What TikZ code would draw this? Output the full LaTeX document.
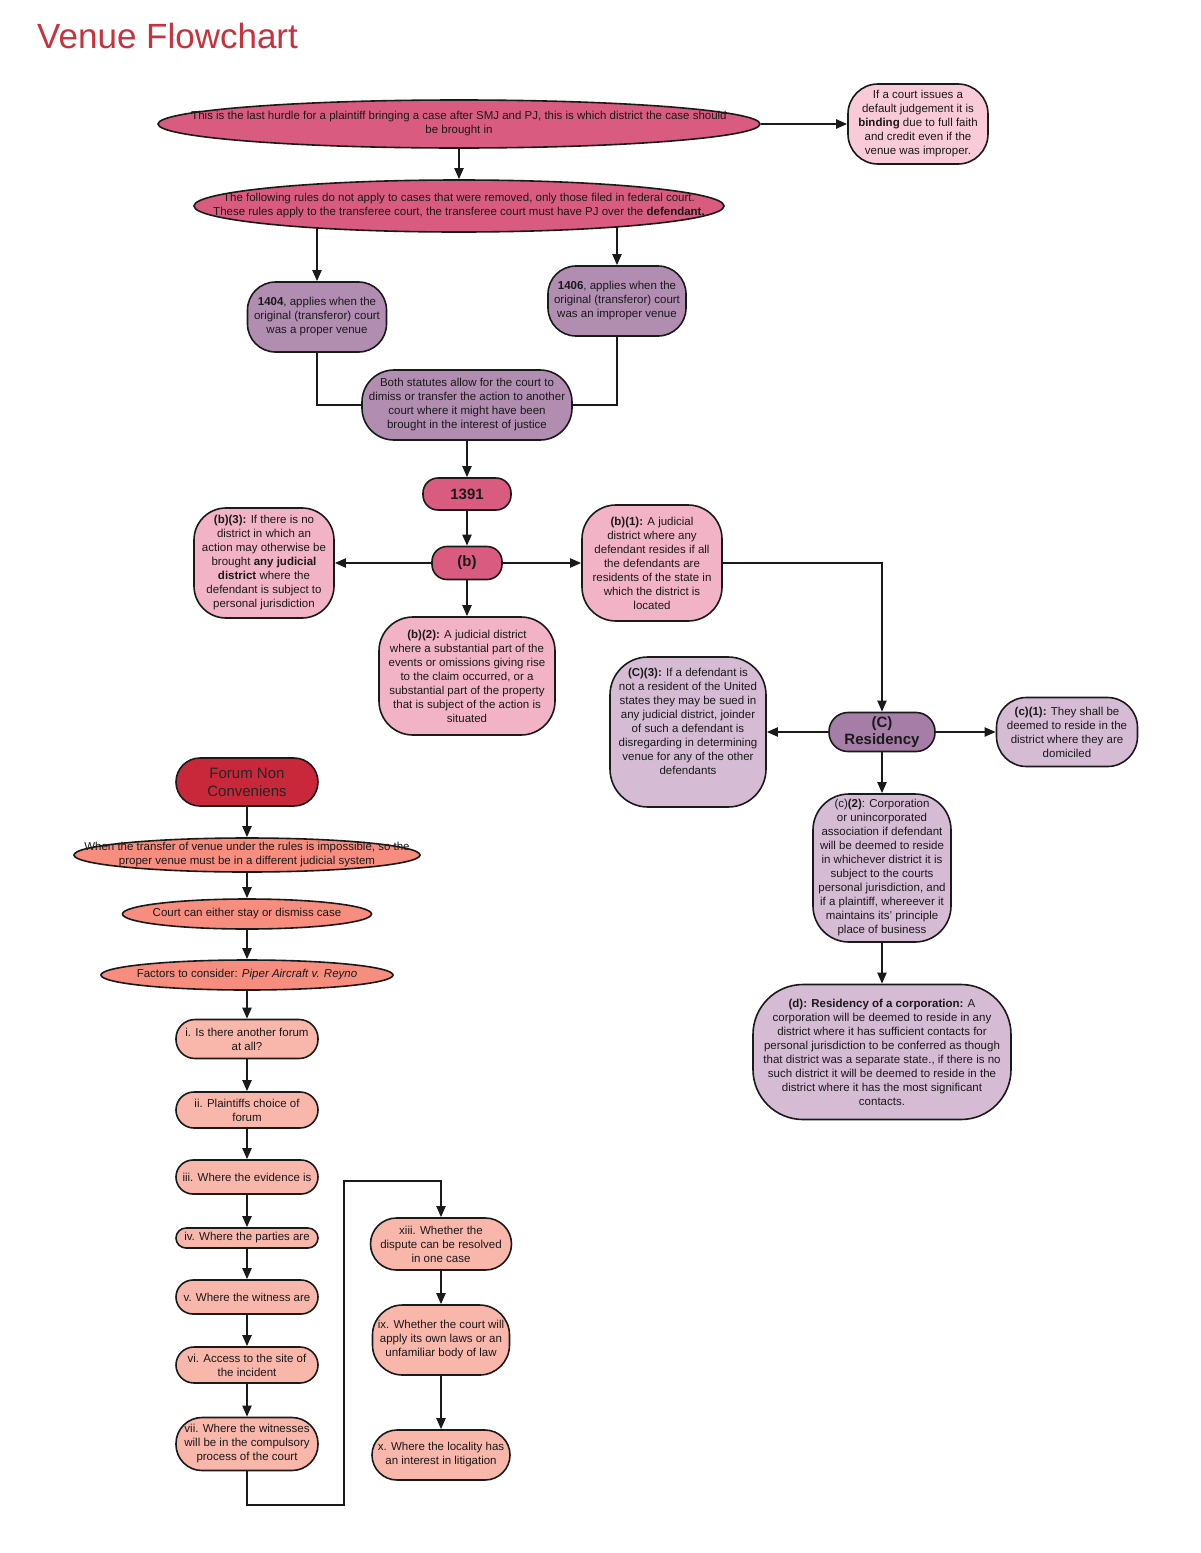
\documentclass[tikz,border=0pt]{standalone}
\usepackage{fontspec}
\setmainfont{Liberation Sans}
\usetikzlibrary{arrows.meta,shapes.geometric,backgrounds}
\definecolor{dpink}{HTML}{D95B80}
\definecolor{lpink}{HTML}{F2B3C6}
\definecolor{vlpink}{HTML}{F9CAD7}
\definecolor{purp}{HTML}{B18DB1}
\definecolor{dpurp}{HTML}{A67DA6}
\definecolor{lpurp}{HTML}{D5BBD4}
\definecolor{dred}{HTML}{C9283A}
\definecolor{salmon}{HTML}{F78D7F}
\definecolor{lsalmon}{HTML}{F9B6AB}
\definecolor{titlered}{HTML}{C8323E}
\definecolor{ink}{HTML}{1A1A1A}
\begin{document}
\begin{tikzpicture}[x=1pt,y=-1pt,
  rbox/.style={draw=ink, line width=1.6pt, rectangle, rounded corners=#1, align=center,
    font=\fontsize{11.5}{14}\selectfont, text=ink, inner sep=1pt},
  rbox/.default=18pt,
  ell/.style={draw=ink, line width=1.6pt, ellipse, inner sep=0pt},
  txt/.style={align=center, font=\fontsize{11.5}{14}\selectfont, text=ink, inner sep=0pt},
  big/.style={font=\fontsize{15}{17}\selectfont\bfseries},
  arr/.style={draw=ink, line width=2pt, -{Triangle[length=11pt,width=9pt]}},
  ln/.style={draw=ink, line width=2pt},
]
\useasboundingbox (0,0) rectangle (1200,1553);

\node[anchor=base west, text=titlered, font=\fontsize{35}{40}\selectfont, inner sep=0pt] (title) at (37,48) {Venue Flowchart};

% top part
\node[ell, fill=dpink, minimum width=602pt, minimum height=48pt] (e1) at (459,124) {};
\node[txt] (t1) at (e1) {This is the last hurdle for a plaintiff bringing a case after SMJ and PJ, this is which district the case should\\be brought in};
\node[rbox=30pt, fill=vlpink, minimum width=140pt, minimum height=80pt] (dj) at (918,124)
  {If a court issues a\\default judgement it is\\\textbf{binding} due to full faith\\and credit even if the\\venue was improper.};
\node[ell, fill=dpink, minimum width=530pt, minimum height=52pt] (e2) at (459,206) {};
\node[txt] (t2) at (e2) {The following rules do not apply to cases that were removed, only those filed in federal court.\\These rules apply to the transferee court, the transferee court must have PJ over the \textbf{defendant.}};

\node[rbox=28pt, fill=purp, minimum width=139pt, minimum height=70pt] (n1404) at (317,317)
  {\textbf{1404}, applies when the\\original (transferor) court\\was a proper venue};
\node[rbox=28pt, fill=purp, minimum width=138pt, minimum height=70pt] (n1406) at (617,301)
  {\textbf{1406}, applies when the\\original (transferor) court\\was an improper venue};
\node[rbox=32pt, fill=purp, minimum width=210pt, minimum height=70pt] (both) at (467,405)
  {Both statutes allow for the court to\\dimiss or transfer the action to another\\court where it might have been\\brought in the interest of justice};

\node[rbox=15pt, fill=dpink, minimum width=88pt, minimum height=32pt, big] (n1391) at (467,494) {1391};
\node[rbox=15pt, fill=dpink, minimum width=70pt, minimum height=33pt, big] (nb) at (467,563) {(b)};

\node[rbox=32pt, fill=lpink, minimum width=140pt, minimum height=110pt] (b3) at (264,563)
  {\textbf{(b)(3):} If there is no\\district in which an\\action may otherwise be\\brought \textbf{any judicial}\\\textbf{district} where the\\defendant is subject to\\personal jurisdiction};
\node[rbox=34pt, fill=lpink, minimum width=140pt, minimum height=116pt] (b1) at (652,563)
  {\textbf{(b)(1):} A judicial\\district where any\\defendant resides if all\\the defendants are\\residents of the state in\\which the district is\\located};
\node[rbox=34pt, fill=lpink, minimum width=176pt, minimum height=118pt] (b2) at (467,676)
  {\textbf{(b)(2):} A judicial district\\where a substantial part of the\\events or omissions giving rise\\to the claim occurred, or a\\substantial part of the property\\that is subject of the action is\\situated};

% residency
\node[rbox=19pt, fill=dpurp, minimum width=106pt, minimum height=39pt, font=\fontsize{15}{17}\selectfont\bfseries, inner sep=0pt] (res) at (882,732) {(C)\\Residency};
\node[rbox=38pt, fill=lpurp, minimum width=156pt, minimum height=150pt] (c3) at (688,732)
  {\textbf{(C)(3):} If a defendant is\\not a resident of the United\\states they may be sued in\\any judicial district, joinder\\of such a defendant is\\disregarding in determining\\venue for any of the other\\defendants\\[8pt]};
\node[rbox=30pt, fill=lpurp, minimum width=141pt, minimum height=69pt] (c1) at (1067,732)
  {\textbf{(c)(1):} They shall be\\deemed to reside in the\\district where they are\\domiciled};
\node[rbox=36pt, fill=lpurp, minimum width=138pt, minimum height=148pt] (c2) at (882,868)
  {(c)\textbf{(2)}: Corporation\\or unincorporated\\association if defendant\\will be deemed to reside\\in whichever district it is\\subject to the courts\\personal jurisdiction, and\\if a plaintiff, whereever it\\maintains its' principle\\place of business};
\node[rbox=50pt, fill=lpurp, minimum width=258pt, minimum height=135pt] (d) at (882,1052)
  {\textbf{(d): Residency of a corporation:} A\\corporation will be deemed to reside in any\\district where it has sufficient contacts for\\personal jurisdiction to be conferred as though\\that district was a separate state., if there is no\\such district it will be deemed to reside in the\\district where it has the most significant\\contacts.};

% forum non conveniens
\node[rbox=24pt, fill=dred, minimum width=142pt, minimum height=48pt, font=\fontsize{15}{18}\selectfont, text=black!85] (fnc) at (247,782) {Forum Non\\Conveniens};
\node[ell, fill=salmon, minimum width=346pt, minimum height=34pt] (f1) at (247,855) {};
\node[txt] (tf1) at (f1) {When the transfer of venue under the rules is impossible, so the\\proper venue must be in a different judicial system};
\node[ell, fill=salmon, minimum width=249pt, minimum height=30pt] (f2) at (247,914) {};
\node[txt] (tf2) at (f2) {Court can either stay or dismiss case};
\node[ell, fill=salmon, minimum width=292pt, minimum height=30pt] (f3) at (247,975) {};
\node[txt] (tf3) at (f3) {Factors to consider: \textit{Piper Aircraft v. Reyno}};

\node[rbox=19pt, fill=lsalmon, minimum width=142pt, minimum height=39pt] (fi) at (247,1039) {i. Is there another forum\\at all?};
\node[rbox=18pt, fill=lsalmon, minimum width=142pt, minimum height=36pt] (fii) at (247,1110) {ii. Plaintiffs choice of\\forum};
\node[rbox=17pt, fill=lsalmon, minimum width=142pt, minimum height=34pt] (fiii) at (247,1177) {iii. Where the evidence is};
\node[rbox=10pt, fill=lsalmon, minimum width=142pt, minimum height=20pt, inner sep=0pt] (fiv) at (247,1238) {iv. Where the parties are};
\node[rbox=17pt, fill=lsalmon, minimum width=142pt, minimum height=34pt] (fv) at (247,1297) {v. Where the witness are};
\node[rbox=18pt, fill=lsalmon, minimum width=142pt, minimum height=36pt] (fvi) at (247,1365) {vi. Access to the site of\\the incident};
\node[rbox=26pt, fill=lsalmon, minimum width=142pt, minimum height=53pt] (fvii) at (247,1444) {vii. Where the witnesses\\will be in the compulsory\\process of the court};
\node[rbox=26pt, fill=lsalmon, minimum width=141pt, minimum height=52pt] (fxiii) at (441,1244) {xiii. Whether the\\dispute can be resolved\\in one case};
\node[rbox=30pt, fill=lsalmon, minimum width=137pt, minimum height=70pt] (fix) at (441,1340) {ix. Whether the court will\\apply its own laws or an\\unfamiliar body of law};
\node[rbox=25pt, fill=lsalmon, minimum width=138pt, minimum height=50pt] (fx) at (441,1455) {x. Where the locality has\\an interest in litigation};

\coordinate (k1) at (344,1505);
\coordinate (k2) at (344,1181);

\begin{scope}[on background layer]
\fill[white] (0,0) rectangle (1200,1553);
\draw[arr] (e1.east) -- (dj.west);
\draw[arr] (e1.center) -- (e2.north);
\draw[arr] (e2.center -| n1404.north) -- (n1404.north);
\draw[arr] (e2.center -| n1406.north) -- (n1406.north);
\draw[ln] (n1404.south) |- (both.west);
\draw[ln] (n1406.south) |- (both.east);
\draw[arr] (both.south) -- (n1391.north);
\draw[arr] (n1391.south) -- (nb.north);
\draw[arr] (nb.west) -- (b3.east);
\draw[arr] (nb.east) -- (b1.west);
\draw[arr] (nb.south) -- (b2.north);
\draw[arr] (b1.east) -| (res.north);
\draw[arr] (res.west) -- (c3.east);
\draw[arr] (res.east) -- (c1.west);
\draw[arr] (res.south) -- (c2.north);
\draw[arr] (c2.south) -- (d.north);
\draw[arr] (fnc.south) -- (f1.north);
\draw[arr] (f1.center) -- (f2.north);
\draw[arr] (f2.center) -- (f3.north);
\draw[arr] (f3.center) -- (fi.north);
\draw[arr] (fi.south) -- (fii.north);
\draw[arr] (fii.south) -- (fiii.north);
\draw[arr] (fiii.south) -- (fiv.north);
\draw[arr] (fiv.south) -- (fv.north);
\draw[arr] (fv.south) -- (fvi.north);
\draw[arr] (fvi.south) -- (fvii.north);
\draw[arr] (fvii.south) |- (k1) -- (k2) -| (fxiii.north);
\draw[arr] (fxiii.south) -- (fix.north);
\draw[arr] (fix.south) -- (fx.north);
\end{scope}
\end{tikzpicture}
\end{document}
